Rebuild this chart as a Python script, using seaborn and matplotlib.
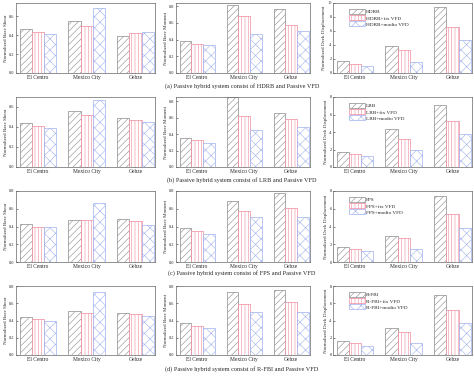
import numpy as np
import pandas as pd
import matplotlib.pyplot as plt
import matplotlib.patches as mpatches
import seaborn as sns

sns.set_style("ticks")
plt.rcParams.update({
    "font.family": ["Liberation Serif", "DejaVu Serif"],
    "font.size": 4,
    "axes.labelsize": 3.6,
    "xtick.labelsize": 4,
    "ytick.labelsize": 3.2,
    "hatch.linewidth": 0.4,
    "axes.linewidth": 0.5,
    "xtick.major.width": 0.4,
    "ytick.major.width": 0.4,
    "xtick.major.size": 1.5,
    "ytick.major.size": 1.5,
    "xtick.direction": "in",
    "ytick.direction": "in",
    "axes.edgecolor": "#666666",
})

quakes = ["El Centro", "Mexico City", "Gebze"]
bearings = ["HDRB", "LRB", "FPS", "R-FBI"]
row_tags = ["(a)", "(b)", "(c)", "(d)"]

# rows: bearing alone, +fix VFD, +modio VFD ; columns: El Centro, Mexico City, Gebze
shear_hdrb = [[0.46, 0.55, 0.39], [0.43, 0.50, 0.42], [0.41, 0.69, 0.43]]
moment_hdrb = [[0.38, 0.82, 0.77], [0.35, 0.68, 0.58], [0.34, 0.47, 0.50]]
disp_hdrb = [[1.75, 3.86, 9.50], [1.32, 3.30, 6.54], [1.04, 1.60, 4.75]]

shear_lrb = [[0.44, 0.56, 0.49], [0.41, 0.52, 0.47], [0.39, 0.67, 0.45]]
moment_lrb = [[0.35, 0.85, 0.66], [0.33, 0.62, 0.58], [0.29, 0.45, 0.48]]
disp_lrb = [[1.71, 4.38, 7.12], [1.49, 3.16, 5.22], [1.22, 1.90, 3.77]]

shear_fps = [[0.43, 0.47, 0.48], [0.40, 0.47, 0.46], [0.39, 0.67, 0.42]]
moment_fps = [[0.38, 0.69, 0.78], [0.35, 0.57, 0.61], [0.32, 0.51, 0.51]]
disp_fps = [[1.74, 2.98, 7.47], [1.51, 2.68, 5.36], [1.28, 1.51, 3.85]]

shear_rfbi = [[0.44, 0.51, 0.49], [0.42, 0.49, 0.47], [0.39, 0.73, 0.45]]
moment_rfbi = [[0.37, 0.73, 0.75], [0.34, 0.59, 0.61], [0.31, 0.50, 0.50]]
disp_rfbi = [[1.60, 3.18, 6.95], [1.38, 2.68, 5.22], [1.07, 1.42, 3.68]]

data = {
    "HDRB": [shear_hdrb, moment_hdrb, disp_hdrb],
    "LRB": [shear_lrb, moment_lrb, disp_lrb],
    "FPS": [shear_fps, moment_fps, disp_fps],
    "R-FBI": [shear_rfbi, moment_rfbi, disp_rfbi],
}

ylabels = ["Normalized Base Shear", "Normalized Base Moment", "Normalized Deck Displacement"]
ylims = [
    [0.74, 0.84, 10],
    [0.70, 0.85, 8],
    [0.80, 0.80, 8],
    [0.80, 0.80, 8],
]
yticks = [
    [[0, 0.2, 0.4, 0.6], [0, 0.2, 0.4, 0.6, 0.8], [0, 2, 4, 6, 8, 10]],
    [[0, 0.2, 0.4, 0.6], [0, 0.2, 0.4, 0.6, 0.8], [0, 2, 4, 6, 8]],
    [[0, 0.2, 0.4, 0.6, 0.8], [0, 0.2, 0.4, 0.6, 0.8], [0, 2, 4, 6, 8]],
    [[0, 0.2, 0.4, 0.6, 0.8], [0, 0.2, 0.4, 0.6, 0.8], [0, 2, 4, 6, 8]],
]

edge_colors = ["#8a8a8a", "#f2899c", "#9fb1ee"]
hatches = ["/////", "|||||", "xxx"]

W, H = 474, 376
fig = plt.figure(figsize=(W / 100, H / 100), dpi=100)

col_x = [(16, 155), (176, 310), (333, 472)]
row_y = [(3, 73), (97, 167), (191, 262), (286, 355)]
caption_y = [86, 180, 273, 369]

for r, b in enumerate(bearings):
    cases = [b, b + "+fix VFD", b + "+modio VFD"]
    for c in range(3):
        vals = np.array(data[b][c])
        df = pd.DataFrame({
            "quake": np.tile(quakes, 3),
            "case": np.repeat(cases, 3),
            "value": vals.ravel(),
        })
        x0, x1 = col_x[c]
        y0, y1 = row_y[r]
        ax = fig.add_axes([x0 / W, 1 - y1 / H, (x1 - x0) / W, (y1 - y0) / H])
        sns.barplot(data=df, x="quake", y="value", hue="case", order=quakes,
                    hue_order=cases, palette=edge_colors, width=0.75,
                    legend=False, ax=ax)
        for cont, ec, ht in zip(ax.containers, edge_colors, hatches):
            for bar in cont:
                bar.set_facecolor("white")
                bar.set_edgecolor(ec)
                bar.set_hatch(ht)
                bar.set_linewidth(0.5)
        ax.set_xlim(-0.45, 2.4)
        ax.set_ylim(0, ylims[r][c])
        ax.set_yticks(yticks[r][c])
        if c < 2:
            ax.set_yticklabels([f"{t:.1f}" for t in yticks[r][c]])
        ax.set_xlabel("")
        ax.set_ylabel(ylabels[c], labelpad=1)
        ax.tick_params(axis="y", pad=1)
        ax.tick_params(axis="x", pad=1.5)
        for s in ax.spines.values():
            s.set_visible(True)
        if c == 2:
            handles = [mpatches.Patch(facecolor="white", edgecolor=ec, hatch=ht,
                                      linewidth=0.5, label=lb)
                       for ec, ht, lb in zip(edge_colors, hatches, cases)]
            ax.legend(handles=handles, loc="upper left", frameon=False,
                      fontsize=3.8, handlelength=3, handleheight=1.1,
                      labelspacing=0.15, handletextpad=0.3,
                      bbox_to_anchor=(0.08, 0.98))
    fig.text(242 / W, 1 - caption_y[r] / H,
             f"{row_tags[r]} Passive hybrid system consist of {b} and Passive VFD",
             ha="center", va="center", fontsize=4.5)

fig.savefig("out.png", dpi=100)
